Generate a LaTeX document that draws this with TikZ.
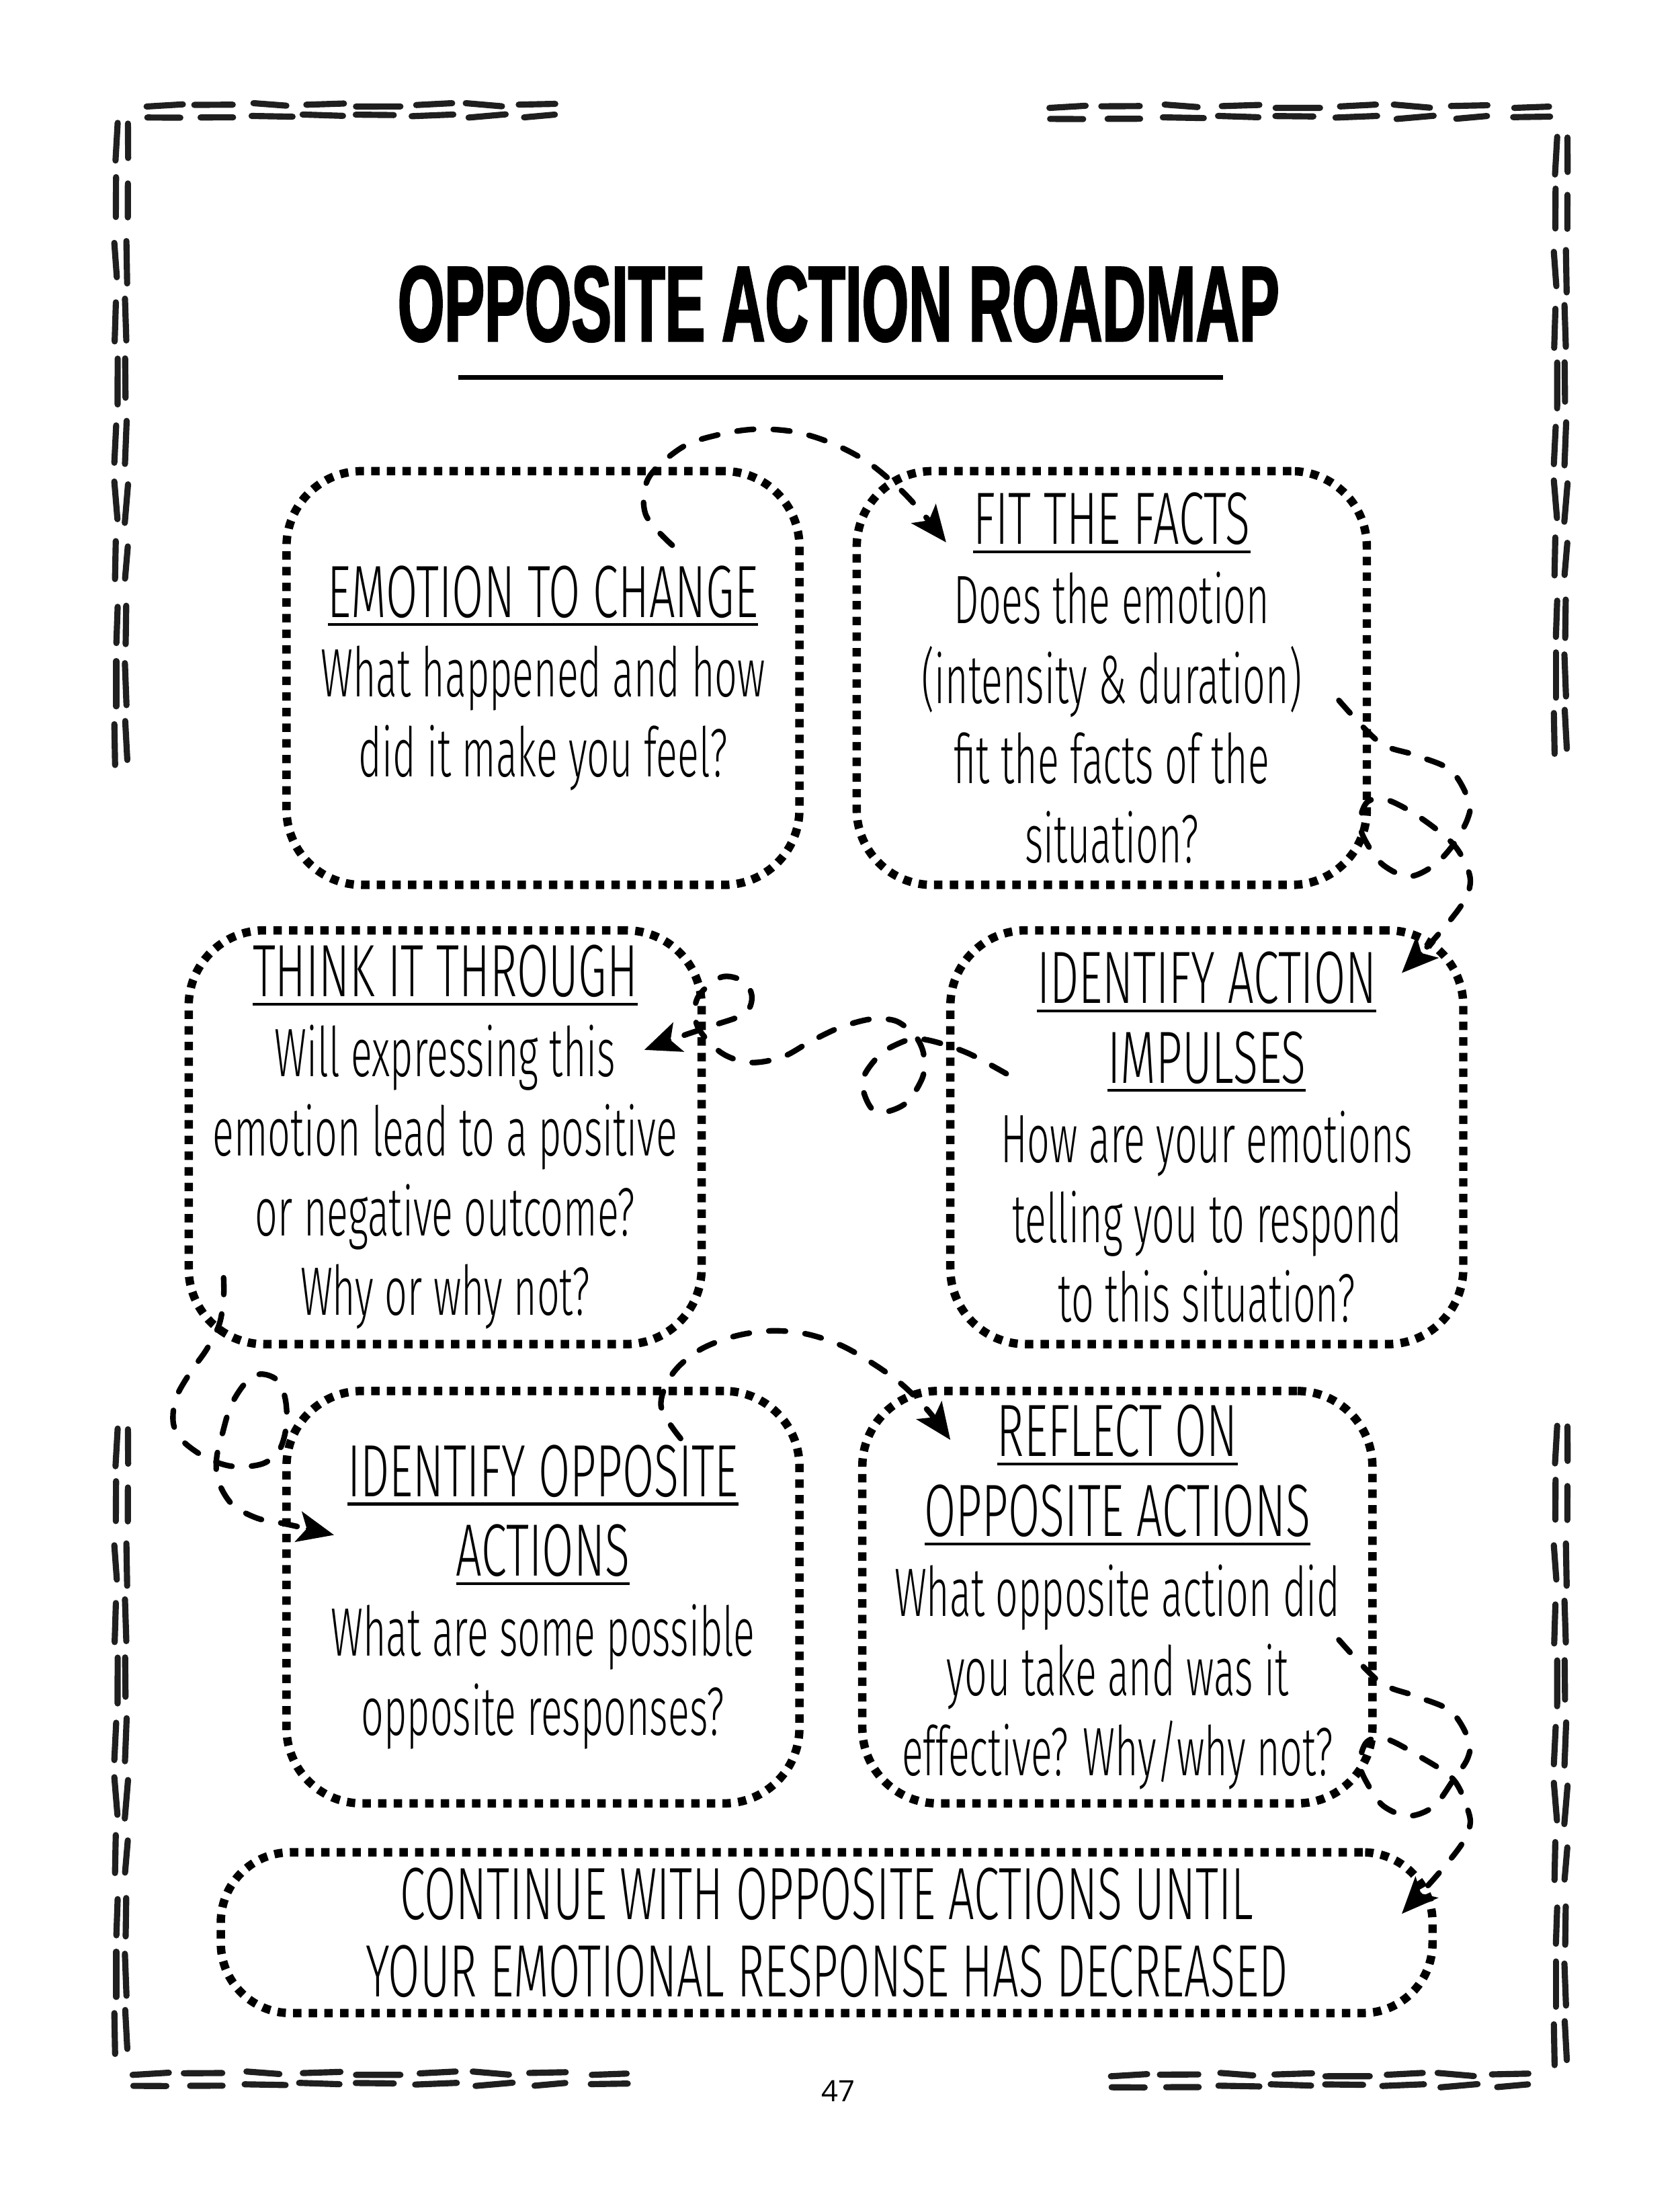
\documentclass[tikz,border=0pt]{standalone}
\usepackage{fontspec}
\usetikzlibrary{arrows.meta}
\IfFontExistsTF{Fira Sans Light}
  {\newfontfamily\hand[FakeStretch=0.58]{Fira Sans Light}
   \newfontfamily\handcaps[FakeStretch=0.62]{Fira Sans Light}}
  {\newfontfamily\hand[FakeStretch=0.575]{Fira Sans}
   \newfontfamily\handcaps[FakeStretch=0.6]{Fira Sans}}
\newfontfamily\titlefont[FakeStretch=0.56,BoldFeatures={FakeBold=1.5}]{Liberation Sans}
\newfontfamily\pagefont{Open Sans}
\newcommand{\hd}[1]{{\handcaps\fontsize{26.5}{28.5}\selectfont\setbox0=\hbox{#1}\rlap{\rule[-3.2pt]{\wd0}{1pt}}\box0}}
\newcommand{\hstitch}[4]{%
  \foreach \i in {1,...,#3}{%
    \pgfmathsetmacro{\xa}{#1+(\i-1)*#4+2.5*sin(\i*131)}%
    \pgfmathsetmacro{\xb}{#1+(\i-1)*#4+27+2.5*cos(\i*71)}%
    \pgfmathsetmacro{\xc}{#1+(\i-1)*#4+2.5*sin(\i*53+20)}%
    \pgfmathsetmacro{\xd}{#1+(\i-1)*#4+27+2.5*cos(\i*113)}%
    \pgfmathsetmacro{\ya}{#2+1.2*sin(\i*89)}%
    \pgfmathsetmacro{\yb}{#2+1.2*sin(\i*157+40)}%
    \pgfmathsetmacro{\yc}{#2+8+1.2*sin(\i*61)}%
    \pgfmathsetmacro{\yd}{#2+8+1.2*sin(\i*29+70)}%
    \draw[stitch] (\xa,\ya) -- (\xb,\yb);
    \draw[stitch] (\xc,\yc) -- (\xd,\yd);
  }}
\newcommand{\vstitch}[4]{%
  \foreach \i in {1,...,#3}{%
    \pgfmathsetmacro{\ya}{#2+(\i-1)*#4+2.5*sin(\i*131)}%
    \pgfmathsetmacro{\yb}{#2+(\i-1)*#4+28+2.5*cos(\i*71)}%
    \pgfmathsetmacro{\yc}{#2+(\i-1)*#4+2.5*sin(\i*53+20)}%
    \pgfmathsetmacro{\yd}{#2+(\i-1)*#4+28+2.5*cos(\i*113)}%
    \pgfmathsetmacro{\xa}{#1+1.2*sin(\i*89)}%
    \pgfmathsetmacro{\xb}{#1+1.2*sin(\i*157+40)}%
    \pgfmathsetmacro{\xc}{#1+7.5+1.2*sin(\i*61)}%
    \pgfmathsetmacro{\xd}{#1+7.5+1.2*sin(\i*29+70)}%
    \draw[stitch] (\xa,\ya) -- (\xb,\yb);
    \draw[stitch] (\xc,\yc) -- (\xd,\yd);
  }}
\begin{document}
\begin{tikzpicture}[x=0.5pt,y=-0.5pt,
  card/.style={draw, line width=3pt, dash pattern=on 3pt off 2.6pt,
    rounded corners=27pt, align=center, inner sep=0pt,
    minimum width=183.5pt, minimum height=148pt,
    font={\hand\fontsize{24.5}{28.5}\selectfont}},
  flow/.style={line width=2pt, dash pattern=on 6pt off 7pt, line cap=round,
    -{Stealth[length=13pt,width=11pt,inset=3pt]}},
  stitch/.style={line width=2.2pt, line cap=round, color=black!88}]
\useasboundingbox (0,0) rectangle (1202,1568);
\fill[white] (0,0) rectangle (1202,1568);

% stitched frame
\hstitch{103}{75}{8}{38.5}
\hstitch{749}{76}{9}{41.5}
\hstitch{93}{1483}{9}{41}
\hstitch{793}{1484}{8}{39.4}
\vstitch{83}{86}{11}{43.2}
\vstitch{1113}{96}{11}{41.4}
\vstitch{83}{1020}{11}{42}
\vstitch{1113}{1018}{11}{43}

% title
\node[font={\titlefont\bfseries\fontsize{38.4}{40}\selectfont}, inner sep=0pt] (title) at (600,217.5) {OPPOSITE ACTION ROADMAP};
\coordinate (ulA) at (328,270);
\coordinate (ulB) at (875,270);
\draw[line width=1.5pt] (ulA) -- (ulB);

% cards
\node[card] (b1) at (388.5,485) {\hd{EMOTION TO CHANGE}\\What happened and how\\did it make you feel?};
\node[card, minimum width=182.5pt] (b2) at (795.5,485) {\hd{FIT THE FACTS}\\Does the emotion\\(intensity \& duration)\\fit the facts of the\\situation?};
\node[card] (b3) at (318.5,813.5) {\hd{THINK IT THROUGH}\\Will expressing this\\emotion lead to a positive\\or negative outcome?\\Why or why not?};
\node[card] (b4) at (863.5,813.5) {\hd{IDENTIFY ACTION}\\\hd{IMPULSES}\\How are your emotions\\telling you to respond\\to this situation?};
\node[card, minimum height=147.5pt] (b5) at (388.5,1142.5) {\hd{IDENTIFY OPPOSITE}\\\hd{ACTIONS}\\What are some possible\\opposite responses?};
\node[card, minimum width=182.5pt, minimum height=147.5pt] (b6) at (799.5,1142.5) {\hd{REFLECT ON}\\\hd{OPPOSITE ACTIONS}\\What opposite action did\\you take and was it\\effective? Why/why not?};
\node[card, minimum width=433.5pt, minimum height=57.5pt, rounded corners=25pt,
  font={\handcaps\fontsize{26.5}{27.5}\selectfont}] (b7) at (591.5,1382.5) {CONTINUE WITH OPPOSITE ACTIONS UNTIL\\YOUR EMOTIONAL RESPONSE HAS DECREASED};

% connector end points
\coordinate (a1s) at (481,390);  \coordinate (a1e) at (677,388);
\coordinate (a2s) at (958,501);  \coordinate (a2e) at (1003,696);
\coordinate (a3s) at (720,768);  \coordinate (a3e) at (461,751);
\coordinate (a4s) at (160,914);  \coordinate (a4e) at (239,1098);
\coordinate (a5s) at (487,1029); \coordinate (a5e) at (680,1030);
\coordinate (a6s) at (958,1173); \coordinate (a6e) at (1003,1369);

% connectors
\draw[flow] plot[smooth, tension=0.55] coordinates {(a1s) (462,368) (464,342) (488,320) (514,311) (541,307) (569,309) (595,317) (620,330) (642,348) (660,367) (a1e)};
\draw[flow] plot[smooth, tension=0.55] coordinates {(a2s) (987,531) (1012,540) (1038,551) (1051,573) (1050,586) (1040,604) (1026,619) (1008,627) (990,619) (979,605) (973,590) (978,574) (992,572) (1015,584) (1040,604) (1051,624) (1051,637) (1044,650) (1026,672) (a2e)};
\draw[flow] plot[smooth, tension=0.55] coordinates {(a3s) (694,754) (672,746) (656,743) (644,746) (629,755) (617,774) (626,795) (647,790) (660,771) (661,755) (657,744) (651,737) (640,730) (623,729) (601,735) (580,745) (560,756) (537,760) (516,753) (499,734) (499,714) (516,699) (532,702) (538,713) (533,725) (512,733) (491,740) (a3e)};
\draw[flow] plot[smooth, tension=0.55] coordinates {(a4s) (160,928) (157,947) (148,965) (136,982) (126,1000) (124,1018) (131,1031) (148,1043) (167,1049) (188,1047) (200,1037) (205,1019) (204,1000) (198,987) (186,983) (175,990) (165,1006) (159,1026) (155,1043) (156,1059) (166,1076) (184,1086) (204,1090) (a4e)};
\draw[flow] plot[smooth, tension=0.55] coordinates {(a5s) (473,1006) (481,983) (500,966) (525,956) (551,952) (576,954) (601,962) (624,975) (645,990) (664,1009) (a5e)};
\draw[flow] plot[smooth, tension=0.55] coordinates {(a6s) (987,1203) (1012,1213) (1038,1224) (1051,1245) (1050,1258) (1040,1273) (1026,1292) (1008,1299) (990,1292) (979,1277) (973,1262) (978,1246) (992,1244) (1015,1256) (1040,1273) (1051,1297) (1051,1309) (1044,1322) (1026,1344) (a6e)};

% page number
\node[font={\pagefont\fontsize{10.5}{12}\selectfont}] (pg) at (600,1496) {47};
\end{tikzpicture}
\end{document}
